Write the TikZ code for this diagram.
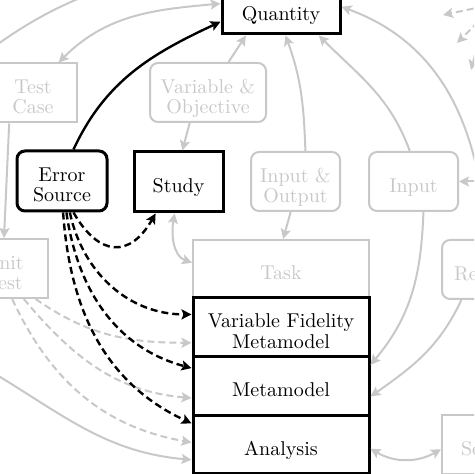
\documentclass[tikz,border=0pt]{standalone}
\usepackage{amsmath}
\usetikzlibrary{arrows.meta}
\definecolor{faded}{RGB}{200,200,200}

\begin{document}
\begin{tikzpicture}[x=0.5pt, y=0.5pt,
    >={Stealth[length=5pt, width=5pt, inset=1pt]},
    every node/.style={align=center, inner sep=0pt, font=\fontsize{10}{10}\selectfont},
    oneline/.style={text height=11pt, text depth=0pt},
    twoline/.style={text height=21pt, text depth=0pt},
    graybox/.style={draw=faded, text=faded, line width=1pt, minimum width=44pt, minimum height=29.5pt},
    grayround/.style={graybox, rounded corners=4pt},
    blackbox/.style={draw=black, line width=1.5pt, minimum width=44.5pt, minimum height=30pt},
    blackround/.style={blackbox, rounded corners=4pt},
    gline/.style={draw=faded, line width=1pt},
    gdash/.style={gline, dash pattern=on 3.5pt off 2pt},
    bline/.style={draw=black, line width=1.2pt},
    bdash/.style={bline, dash pattern=on 3.5pt off 2pt}]
  \path[use as bounding box, clip] (0,0) rectangle (474,-474);

  % nodes
  \node[graybox, twoline] (testcase) at (33,-93) {Test\\Case};
  \node[grayround, twoline, minimum width=58pt] (varobj) at (208,-92.5) {Variable \&\\Objective};
  \node[grayround, twoline, minimum width=44.5pt] (inout) at (295.5,-181.5) {Input \&\\Output};
  \node[grayround, oneline, minimum width=44.5pt] (input) at (413.5,-181.5) {Input};
  \node[graybox, twoline] (unittest) at (4,-268.5) {Unit\\Test};
  \node[graybox, oneline, minimum width=88pt, minimum height=29pt] (task) at (281,-269) {Task};
  \node[grayround, oneline] (results) at (486,-269.5) {Results};
  \node[graybox, oneline] (setup) at (486,-444.5) {Setup};

  \node[blackbox, oneline, minimum width=59pt, minimum height=24pt] (quantity) at (281,-10) {Quantity};
  \node[blackround, twoline, minimum width=45pt] (errsrc) at (62,-181) {Error\\Source};
  \node[blackbox, oneline] (study) at (178.5,-182) {Study};
  \node[blackbox, twoline, minimum width=88pt, minimum height=29pt] (vfm) at (281,-327) {Variable Fidelity\\Metamodel};
  \node[blackbox, oneline, minimum width=88pt, minimum height=29.5pt] (meta) at (281,-385.5) {Metamodel};
  \node[blackbox, oneline, minimum width=88pt, minimum height=29pt] (analysis) at (281,-444) {Analysis};

  % loose ends outside the frame
  \coordinate (tlA) at (-20,-57);
  \coordinate (tlB) at (110,14);
  \coordinate (rgtA) at (480,-185);
  \coordinate (rgtB) at (490,-181.5);
  \coordinate (lftA) at (-20,-365);
  \coordinate (trA1) at (495,-4);   \coordinate (trB1) at (443,-15);
  \coordinate (trA2) at (478,-22);  \coordinate (trB2) at (457,-43);
  \coordinate (trA3) at (475,-55);  \coordinate (trB3) at (471,-70);

  % gray connectors
  \draw[gline] (tlA) to[bend left=8] (tlB);
  \draw[gline, <->] (testcase.50) to[out=45, in=185] (quantity.174);
  \draw[gline, ->] (varobj.56) -- (quantity.216);
  \draw[gline, ->] (inout.72) to[out=92, in=-70] (quantity.280);
  \draw[gline, ->] (input.97) to[out=110, in=-45] (quantity.326);
  \draw[gline, ->] (rgtA) to[out=100, in=-20] (quantity.3);
  \draw[gline, ->] (rgtB) -- (input.east);
  \draw[gline, ->] (input.288) to[out=-92, in=50] (meta.13);
  \draw[gline, ->] (results.231) to[out=-115, in=35] (meta.353);
  \draw[gline, <->] (analysis.357) to[bend right=30] (setup.186);
  \draw[gline, <->] (study.263) to[out=-100, in=160] (task.176);
  \draw[gline, ->] (varobj.239) -- (study.83);
  \draw[gline, ->] (inout.261) -- (task.86);
  \draw[gline, ->] (testcase.232) -- (unittest.north);
  \draw[gline, ->] (lftA) to[out=-30, in=175] (analysis.190);
  \draw[gdash, ->] (unittest.316) to[out=-35, in=180] (vfm.190);
  \draw[gdash, ->] (unittest.303) to[out=-50, in=175] (meta.188);
  \draw[gdash, ->] (unittest.285) to[out=-65, in=170] (analysis.179);
  \draw[gdash, ->] (trA1) -- (trB1);
  \draw[gdash, ->] (trA2) -- (trB2);
  \draw[gdash, ->] (trA3) -- (trB3);

  % black connectors
  \draw[bline, ->] (errsrc.70) to[out=65, in=-155] (quantity.191);
  \draw[bdash, ->] (errsrc.290) to[out=-60, in=-120, looseness=1.6] (study.234);
  \draw[bdash, ->] (errsrc.284) to[out=-78, in=180] (vfm.172);
  \draw[bdash, ->] (errsrc.278) to[out=-82, in=165] (meta.169);
  \draw[bdash, ->] (errsrc.272) to[out=-86, in=155] (analysis.167);
\end{tikzpicture}
\end{document}
